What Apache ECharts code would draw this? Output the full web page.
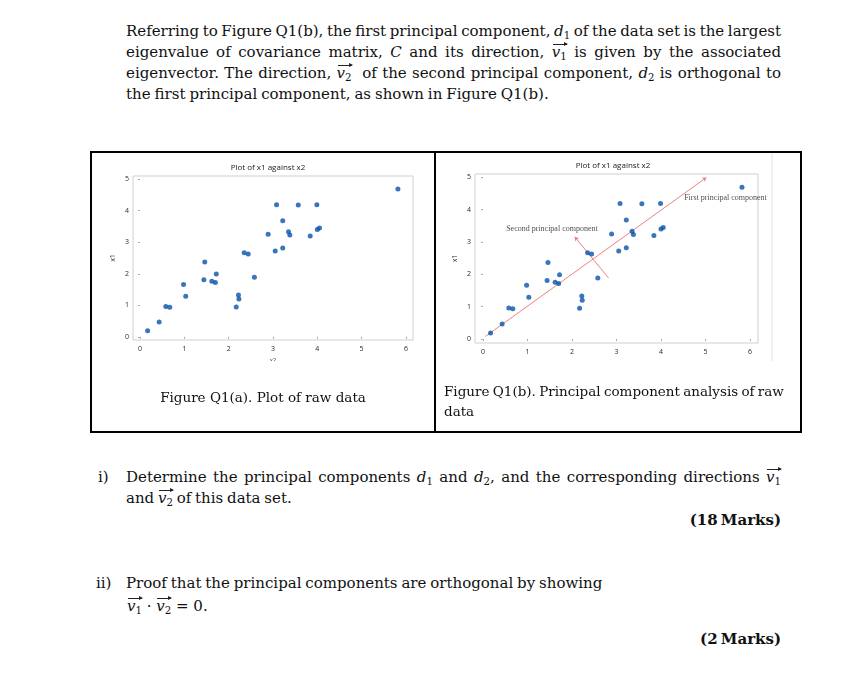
<!DOCTYPE html>
<html><head><meta charset="utf-8">
<script src="https://cdn.jsdelivr.net/npm/echarts@6/dist/echarts.min.js"></script>
<style>
html,body{margin:0;padding:0;background:#fff;}
body{width:868px;height:680px;position:relative;overflow:hidden;font-family:"DejaVu Serif","Liberation Serif",serif;color:#111;}
.ln{position:absolute;left:126px;width:655px;font-size:15px;line-height:21px;white-space:normal;}
.j{text-align:justify;text-align-last:justify;word-spacing:-2px;}
.sb{font-size:0.68em;vertical-align:-0.28em;line-height:0;font-style:normal;}
.vec{position:relative;font-style:italic;display:inline-block;line-height:1;}
.vec::before{content:'';position:absolute;left:1px;right:0px;top:-1px;border-top:1px solid #222;}
.vec::after{content:'';position:absolute;right:-1px;top:-3px;border-left:4px solid #222;border-top:2px solid transparent;border-bottom:2px solid transparent;}
#chart{position:absolute;left:0;top:0;width:868px;height:680px;z-index:1;}
.cell{position:absolute;background:#fff;z-index:2;}
.bd{position:absolute;background:#000;z-index:3;}
.cap{position:absolute;font-size:13.5px;line-height:20px;z-index:4;}
.lab{position:absolute;font-size:15px;line-height:21px;}
</style></head>
<body>
<div class="ln j" style="top:21px">Referring to Figure Q1(b), the first principal component, <i>d</i><span class="sb">1</span> of the data set is the largest</div>
<div class="ln j" style="top:42px">eigenvalue of covariance matrix, <i>C</i> and its direction, <span class="vec">v<span class="sb">1</span></span> is given by the associated</div>
<div class="ln j" style="top:63px">eigenvector. The direction, <span class="vec">v<span class="sb">2</span></span> &nbsp;of the second principal component, <i>d</i><span class="sb">2</span> is orthogonal to</div>
<div class="ln" style="top:84px;word-spacing:-0.8px">the first principal component, as shown in Figure Q1(b).</div>

<div id="chart"></div>
<div class="cell" style="left:92px;top:361px;width:342px;height:70px"></div>
<div class="cell" style="left:436px;top:361px;width:364px;height:70px"></div>
<div class="bd" style="left:90px;top:151px;width:712px;height:2px"></div>
<div class="bd" style="left:90px;top:431px;width:712px;height:2px"></div>
<div class="bd" style="left:90px;top:151px;width:2px;height:282px"></div>
<div class="bd" style="left:434px;top:151px;width:2px;height:282px"></div>
<div class="bd" style="left:800px;top:151px;width:2px;height:282px"></div>
<div class="cap" style="left:92px;width:342px;top:387px;text-align:center">Figure Q1(a). Plot of raw data</div>
<div class="cap" style="left:444px;width:352px;top:381px;word-spacing:-1px">Figure Q1(b). Principal component analysis of raw data</div>

<div class="lab" style="left:98px;top:467px">i)</div>
<div class="ln j" style="top:467px">Determine the principal components <i>d</i><span class="sb">1</span> and <i>d</i><span class="sb">2</span>, and the corresponding directions <span class="vec">v<span class="sb">1</span></span></div>
<div class="ln" style="top:488px;word-spacing:-1px">and <span class="vec">v<span class="sb">2</span></span> of this data set.</div>
<div class="ln" style="top:510px;text-align:right;font-weight:bold;word-spacing:-2px">(18 Marks)</div>
<div class="lab" style="left:96px;top:573px">ii)</div>
<div class="ln" style="top:573px;word-spacing:-0.9px">Proof that the principal components are orthogonal by showing</div>
<div class="ln" style="top:596px;left:127px"><span class="vec">v<span class="sb">1</span></span> · <span class="vec">v<span class="sb">2</span></span> = 0.</div>
<div class="ln" style="top:629px;text-align:right;font-weight:bold;word-spacing:-2px">(2 Marks)</div>

<script>
// Data (x2 horizontal, x1 vertical)
const x2 = [0.17,0.43,0.58,0.67,0.98,1.03,1.44,1.46,1.62,1.70,1.72,2.17,2.22,2.23,2.35,2.44,2.58,2.89,3.05,3.08,3.22,3.22,3.35,3.38,3.57,3.84,3.99,4.00,4.05,5.82];
const x1 = [0.19,0.47,0.96,0.94,1.66,1.29,1.81,2.37,1.76,1.72,1.99,0.95,1.33,1.20,2.67,2.63,1.89,3.25,2.72,4.19,3.68,2.82,3.33,3.23,4.18,3.20,4.19,3.40,3.45,4.69];
const xTicks = [0,1,2,3,4,5,6];
const yTicks = [0,1,2,3,4,5];
const pc1 = [[0.05,0.08],[5.02,4.99]];
const pc2 = [[2.82,1.89],[2.06,3.16]];
const pc1Label = {x:4.52, y:4.36, text:'First principal component'};
const pc2Label = {x:0.52, y:3.39, text:'Second principal component'};

const pts = x2.map((v,i)=>[v,x1[i]]);
const sans = '"Open Sans","DejaVu Sans",sans-serif';
function xAx(idx, min, max){
  return {gridIndex:idx,type:'value',min:min,max:max,
    name:'x2',nameLocation:'middle',nameGap:17,nameTextStyle:{fontSize:6,color:'#333',fontFamily:sans},
    axisLine:{show:false},splitLine:{show:false},
    axisTick:{show:true,length:2,customValues:xTicks,lineStyle:{color:'#aaa'}},
    axisLabel:{customValues:xTicks,fontSize:7,color:'#2a2a2a',margin:5,fontFamily:sans}};
}
function yAx(idx, min, max){
  return {gridIndex:idx,type:'value',min:min,max:max,
    name:'x1',nameLocation:'middle',nameGap:17,nameTextStyle:{fontSize:7,color:'#2a2a2a',fontFamily:sans},
    axisLine:{show:false},splitLine:{show:false},
    axisTick:{show:true,length:2,customValues:yTicks,lineStyle:{color:'#aaa'}},
    axisLabel:{customValues:yTicks,fontSize:7,color:'#2a2a2a',margin:4,fontFamily:sans}};
}
const chart = echarts.init(document.getElementById('chart'),null,{renderer:'canvas'});
chart.setOption({
  backgroundColor:'transparent',
  animation:false,
  title:[
    {text:'Plot of x1 against x2',left:263,top:159,textAlign:'center',textStyle:{fontSize:8,fontWeight:'normal',color:'#1a1a1a',fontFamily:sans}},
    {text:'Plot of x1 against x2',left:608,top:157,textAlign:'center',textStyle:{fontSize:8,fontWeight:'normal',color:'#1a1a1a',fontFamily:sans}}
  ],
  grid:[
    {left:133,top:176,width:280,height:164,show:true,borderColor:'#cfcfcf',borderWidth:1,backgroundColor:'transparent'},
    {left:475,top:174,width:283,height:169,show:true,borderColor:'#cfcfcf',borderWidth:1,backgroundColor:'transparent'}
  ],
  xAxis:[xAx(0,-0.16,6.16), xAx(1,-0.18,6.18)],
  yAxis:[yAx(0,-0.1,5.1), yAx(1,-0.12,5.1)],
  series:[
    {type:'scatter',xAxisIndex:0,yAxisIndex:0,data:pts,symbolSize:5,itemStyle:{color:'#0652aa'}},
    {type:'lines',coordinateSystem:'cartesian2d',xAxisIndex:1,yAxisIndex:1,polyline:false,
      symbol:['none','arrow'],symbolSize:4,
      lineStyle:{color:'#ee8080',width:1,opacity:1},
      data:[{coords:pc1},{coords:pc2}],z:1},
    {type:'scatter',xAxisIndex:1,yAxisIndex:1,data:pts,symbolSize:5,itemStyle:{color:'#0652aa'},z:3},
    {type:'scatter',xAxisIndex:1,yAxisIndex:1,symbolSize:0,silent:true,
      data:[[pc1Label.x,pc1Label.y,pc1Label.text],[pc2Label.x,pc2Label.y,pc2Label.text]],
      label:{show:true,position:'right',distance:0,formatter:p=>p.value[2],fontSize:8,color:'#222',fontFamily:'"Liberation Serif",serif'}}
  ],
  graphic:[
    {type:'line',shape:{x1:772,y1:153,x2:772,y2:361},style:{stroke:'#e2e2e2',lineWidth:1}}
  ]
});
</script>
</body></html>
